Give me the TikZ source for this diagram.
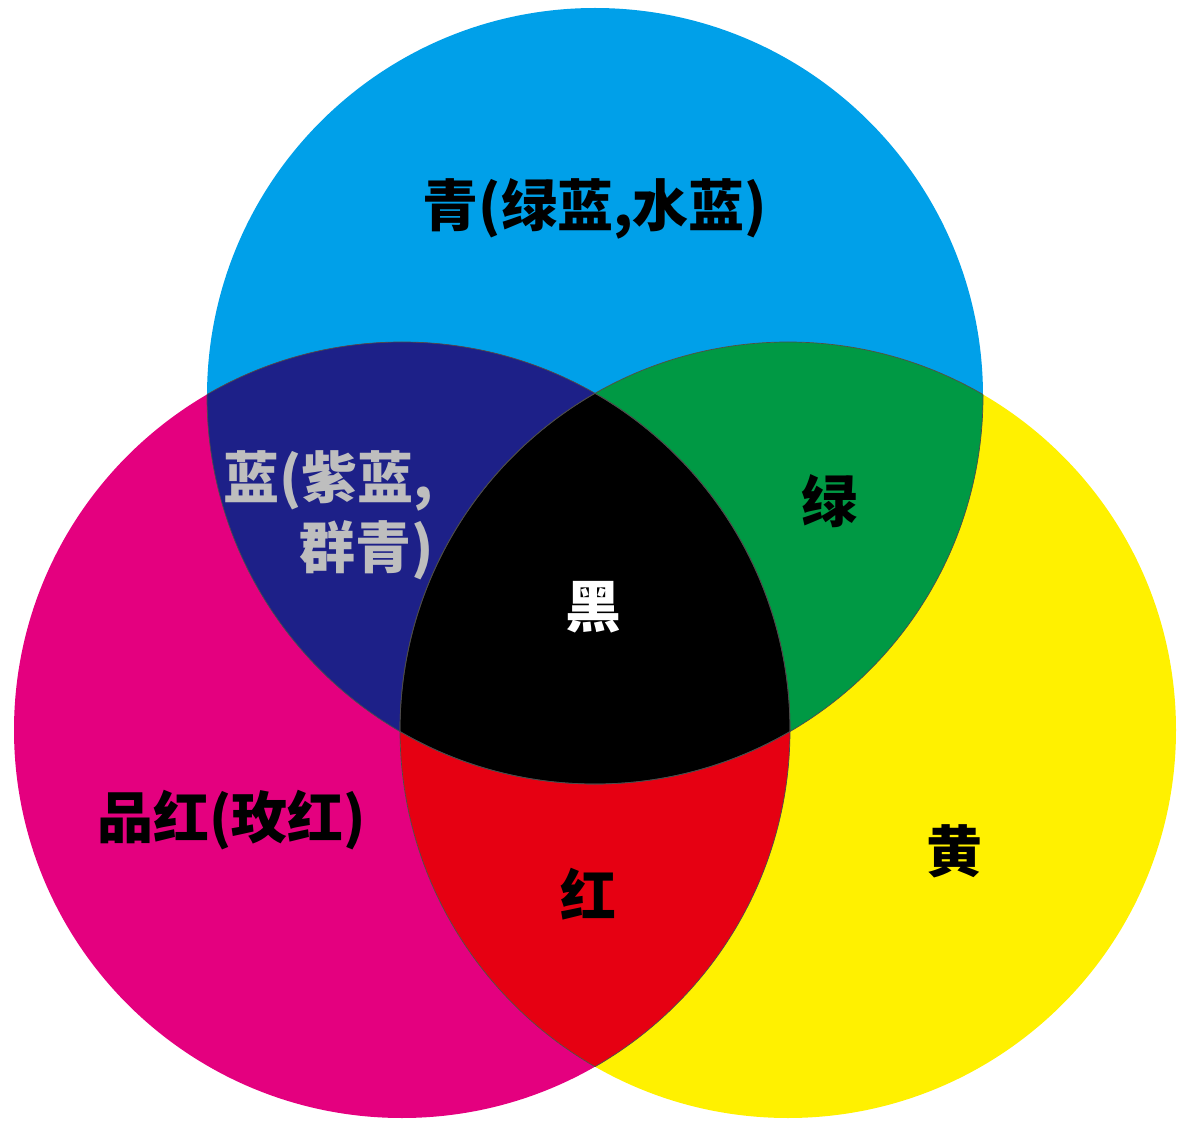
\documentclass[tikz,border=0pt]{standalone}
\usepackage{fontspec}
\usepackage{xcolor}
\usetikzlibrary{positioning}
\newfontfamily\cjk{Noto Sans CJK SC}
\definecolor{cmCyan}{HTML}{00A0E9}
\definecolor{cmMagenta}{HTML}{E4007F}
\definecolor{cmYellow}{HTML}{FFF100}
\definecolor{cmBlue}{HTML}{1D2088}
\definecolor{cmGreen}{HTML}{009944}
\definecolor{cmRed}{HTML}{E60012}
\definecolor{cmGrey}{HTML}{BEBEBE}
\newcommand{\ringR}{194pt}

\begin{document}
\begin{tikzpicture}[
  x=0.5pt, y=-0.5pt,
  lbl/.style={font=\cjk\bfseries\fontsize{28}{35}\selectfont, text=black, inner sep=0pt},
  seam/.style={draw=black!70, line width=0.35pt}
]
  \useasboundingbox (0,0) rectangle (1190,1134);
  \coordinate (cC) at (595,396);
  \coordinate (cM) at (402,730);
  \coordinate (cY) at (788,730);

  % primaries
  \fill[cmCyan] (cC) circle[radius=\ringR];
  \fill[cmMagenta] (cM) circle[radius=\ringR];
  \fill[cmYellow] (cY) circle[radius=\ringR];

  % overlaps
  \begin{scope}
    \clip (cC) circle[radius=\ringR];
    \fill[cmBlue] (cM) circle[radius=\ringR];
    \fill[cmGreen] (cY) circle[radius=\ringR];
  \end{scope}
  \begin{scope}
    \clip (cM) circle[radius=\ringR];
    \fill[cmRed] (cY) circle[radius=\ringR];
  \end{scope}
  \begin{scope}
    \clip (cC) circle[radius=\ringR];
    \clip (cM) circle[radius=\ringR];
    \fill[black] (cY) circle[radius=\ringR];
  \end{scope}

  % thin seams inside
  \foreach \a/\b in {cC/cM, cC/cY, cM/cC, cM/cY, cY/cC, cY/cM} {
    \begin{scope}
      \clip (\b) circle[radius=\ringR];
      \draw[seam] (\a) circle[radius=\ringR];
    \end{scope}
  }

  \node[lbl] (tCyan) at (595,209) {青(绿蓝,水蓝)};
  \node[lbl, text=cmGrey, align=right, anchor=north east] (tBlue) at (434,450)
    {蓝(紫蓝,\\群青)};
  \node[lbl] (tGreen) at (829,501) {绿};
  \node[lbl, text=white] (tBlack) at (593,607) {黑};
  \node[lbl] (tMagenta) at (232,820) {品红(玫红)};
  \node[lbl] (tRed) at (588,894) {红};
  \node[lbl] (tYellow) at (954,851) {黄};
\end{tikzpicture}
\end{document}
